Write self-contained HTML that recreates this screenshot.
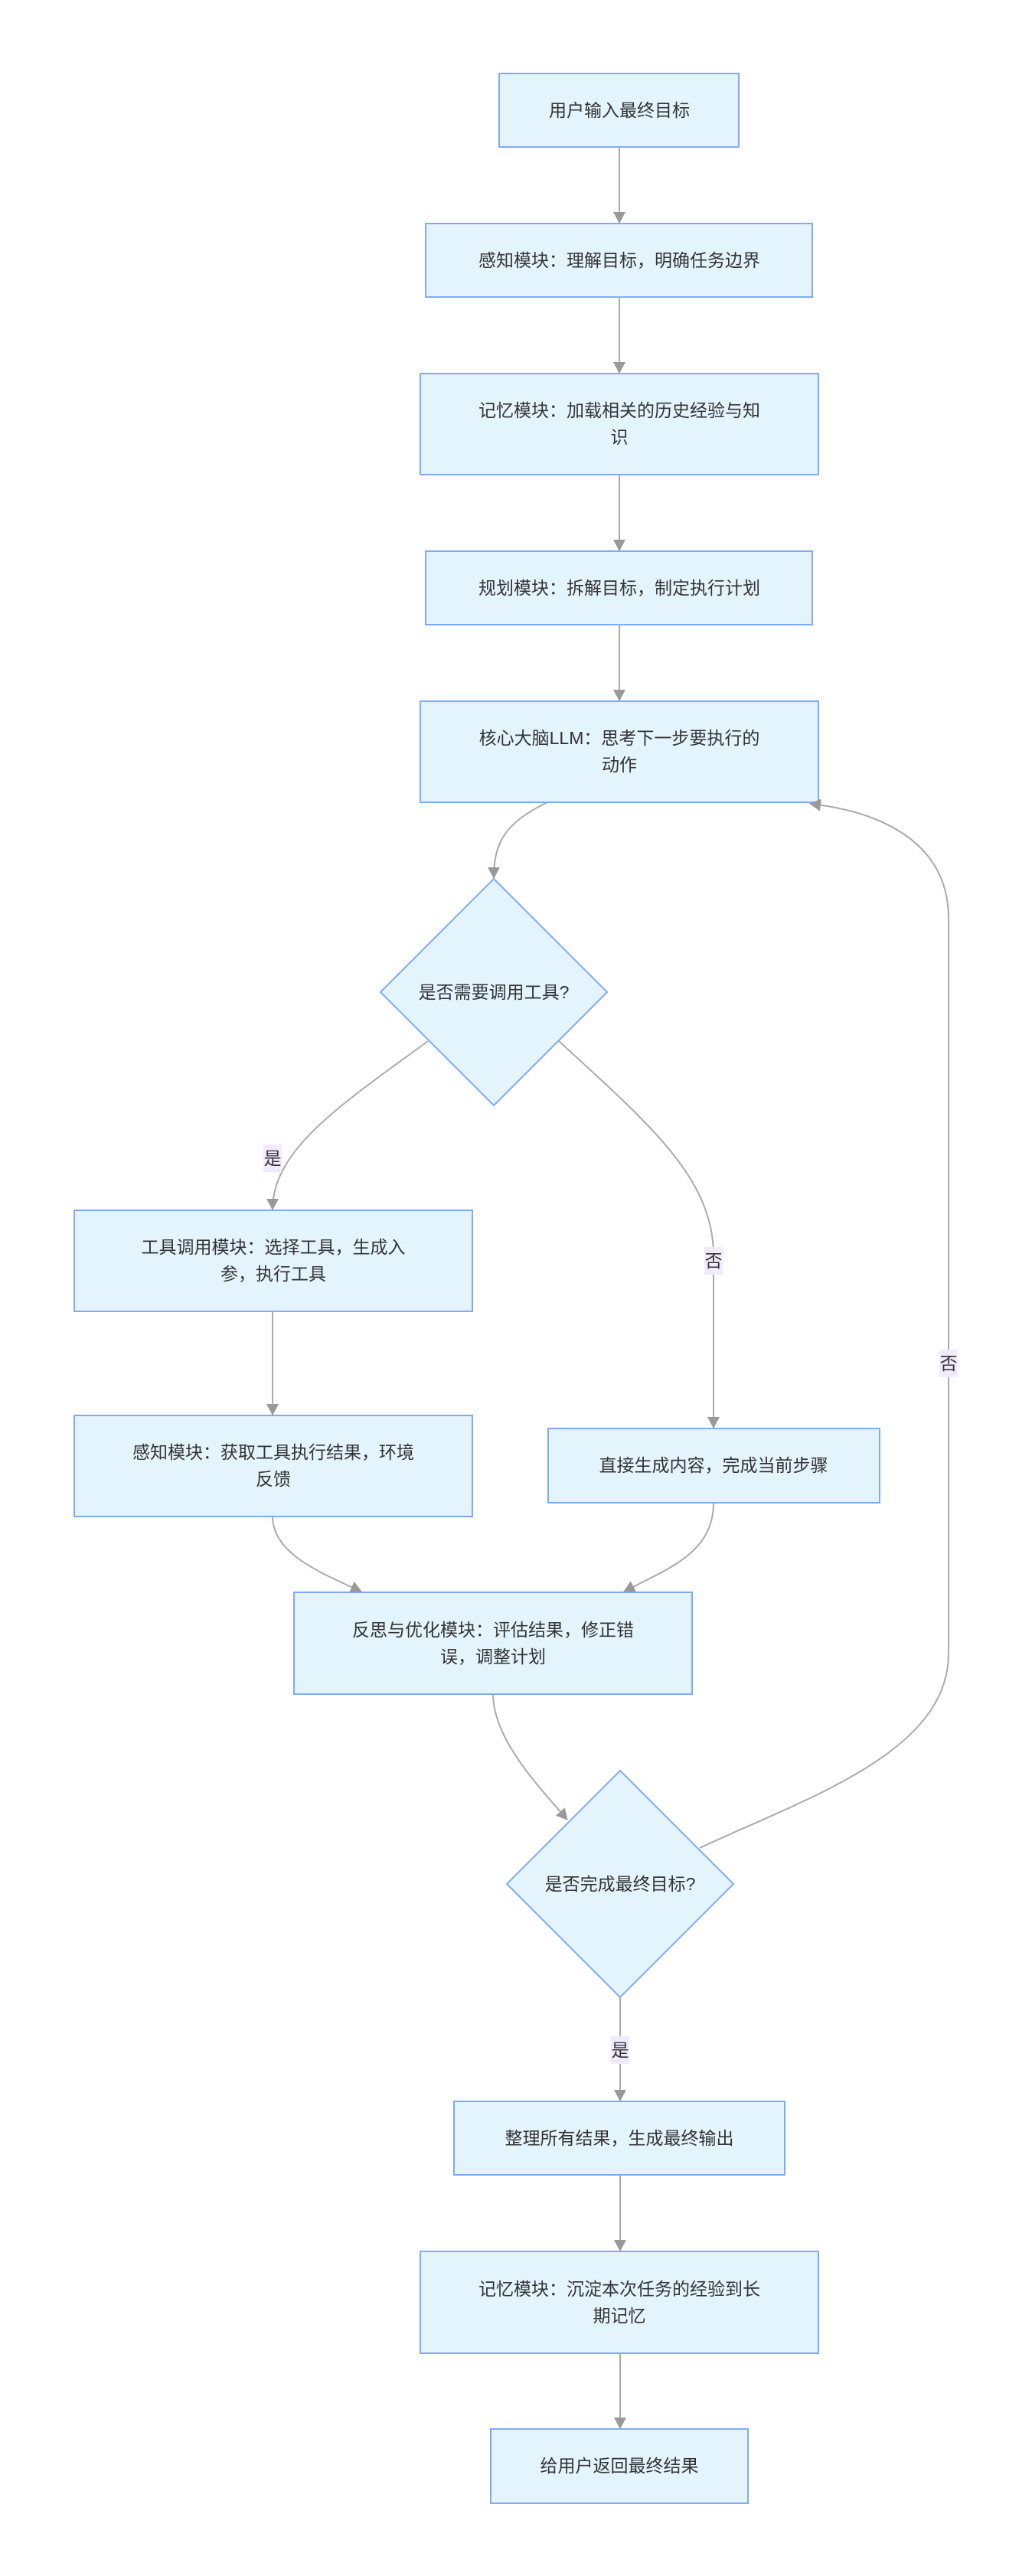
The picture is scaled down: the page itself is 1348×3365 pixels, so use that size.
<!DOCTYPE html>
<html><head><meta charset="utf-8"><style>
html,body{margin:0;padding:0;background:#fff;}
svg{display:block;}
text{font-family:"Liberation Sans","Noto Sans CJK SC",sans-serif;font-size:23px;fill:#333;}
.n{fill:#e4f4fd;stroke:#7eaaf8;stroke-width:2;}
.e{fill:none;stroke:#aaa;stroke-width:2;}
.lb{fill:#f1eafc;}
</style></head><body>
<svg width="1348" height="3365" viewBox="0 0 1348 3365" xmlns="http://www.w3.org/2000/svg">
<defs><marker id="a" markerWidth="16" markerHeight="16" refX="14" refY="8" orient="auto" markerUnits="userSpaceOnUse"><path d="M0,0 L15,8 L0,16 Z" fill="#999"/></marker></defs>
<!-- nodes -->
<rect class="n" x="652" y="96" width="313" height="96"/>
<text x="809" y="144" text-anchor="middle" dominant-baseline="central">用户输入最终目标</text>
<rect class="n" x="556" y="292" width="505" height="96"/>
<text x="809" y="340" text-anchor="middle" dominant-baseline="central">感知模块：理解目标，明确任务边界</text>
<rect class="n" x="549" y="488" width="520" height="132"/>
<text x="809" y="536" text-anchor="middle" dominant-baseline="central">记忆模块：加载相关的历史经验与知</text>
<text x="809" y="571" text-anchor="middle" dominant-baseline="central">识</text>
<rect class="n" x="556" y="720" width="505" height="96"/>
<text x="809" y="768" text-anchor="middle" dominant-baseline="central">规划模块：拆解目标，制定执行计划</text>
<rect class="n" x="549" y="916" width="520" height="132"/>
<text x="809" y="964" text-anchor="middle" dominant-baseline="central">核心大脑LLM：思考下一步要执行的</text>
<text x="809" y="999" text-anchor="middle" dominant-baseline="central">动作</text>
<polygon class="n" points="645,1148 793,1296 645,1444 497,1296"/>
<text x="645" y="1296" text-anchor="middle" dominant-baseline="central">是否需要调用工具?</text>
<rect class="n" x="97" y="1581" width="520" height="132"/>
<text x="357" y="1629" text-anchor="middle" dominant-baseline="central">工具调用模块：选择工具，生成入</text>
<text x="357" y="1664" text-anchor="middle" dominant-baseline="central">参，执行工具</text>
<rect class="n" x="97" y="1849" width="520" height="132"/>
<text x="357" y="1897" text-anchor="middle" dominant-baseline="central">感知模块：获取工具执行结果，环境</text>
<text x="357" y="1932" text-anchor="middle" dominant-baseline="central">反馈</text>
<rect class="n" x="716" y="1866" width="433" height="97"/>
<text x="932" y="1914" text-anchor="middle" dominant-baseline="central">直接生成内容，完成当前步骤</text>
<rect class="n" x="384" y="2080" width="520" height="133"/>
<text x="644" y="2129" text-anchor="middle" dominant-baseline="central">反思与优化模块：评估结果，修正错</text>
<text x="644" y="2164" text-anchor="middle" dominant-baseline="central">误，调整计划</text>
<polygon class="n" points="810,2313 958,2461 810,2609 662,2461"/>
<text x="810" y="2461" text-anchor="middle" dominant-baseline="central">是否完成最终目标?</text>
<rect class="n" x="593" y="2745" width="432" height="96"/>
<text x="809" y="2793" text-anchor="middle" dominant-baseline="central">整理所有结果，生成最终输出</text>
<rect class="n" x="549" y="2941" width="520" height="133"/>
<text x="809" y="2990" text-anchor="middle" dominant-baseline="central">记忆模块：沉淀本次任务的经验到长</text>
<text x="809" y="3025" text-anchor="middle" dominant-baseline="central">期记忆</text>
<rect class="n" x="641" y="3173" width="336" height="97"/>
<text x="809" y="3221" text-anchor="middle" dominant-baseline="central">给用户返回最终结果</text>
<!-- edges -->
<path class="e" marker-end="url(#a)" d="M809 192 L809 291"/>
<path class="e" marker-end="url(#a)" d="M809 388 L809 487"/>
<path class="e" marker-end="url(#a)" d="M809 620 L809 719"/>
<path class="e" marker-end="url(#a)" d="M809 816 L809 915"/>
<path class="e" marker-end="url(#a)" d="M715 1048 C660 1075,645 1100,645 1147"/>
<path class="e" marker-end="url(#a)" d="M559 1360 C450 1440,356 1500,356 1580"/>
<path class="e" marker-end="url(#a)" d="M730 1360 C850 1470,932 1540,932 1640 L932 1865"/>
<path class="e" marker-end="url(#a)" d="M356 1713 L356 1848"/>
<path class="e" marker-end="url(#a)" d="M356 1981 C356 2030,420 2055,472 2079"/>
<path class="e" marker-end="url(#a)" d="M932 1963 C932 2030,870 2050,815 2079"/>
<path class="e" marker-end="url(#a)" d="M644 2213 C644 2270,700 2330,741 2377"/>
<path class="e" marker-end="url(#a)" d="M914 2414 C1050 2350,1239 2290,1239 2160 L1239 1200 C1239 1100,1150 1060,1058 1050"/>
<path class="e" marker-end="url(#a)" d="M810 2609 L810 2744"/>
<path class="e" marker-end="url(#a)" d="M810 2841 L810 2940"/>
<path class="e" marker-end="url(#a)" d="M810 3074 L810 3172"/>
<!-- labels -->
<rect class="lb" x="344" y="1495" width="24" height="36"/>
<text x="356" y="1513" text-anchor="middle" dominant-baseline="central">是</text>
<rect class="lb" x="920" y="1629" width="24" height="36"/>
<text x="932" y="1647" text-anchor="middle" dominant-baseline="central">否</text>
<rect class="lb" x="1227" y="1763" width="24" height="36"/>
<text x="1239" y="1781" text-anchor="middle" dominant-baseline="central">否</text>
<rect class="lb" x="798" y="2660" width="24" height="36"/>
<text x="810" y="2678" text-anchor="middle" dominant-baseline="central">是</text>
</svg>
</body></html>
